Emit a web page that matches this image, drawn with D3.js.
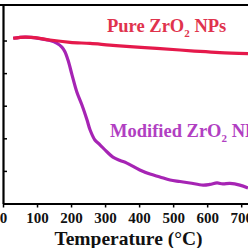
<!DOCTYPE html>
<html>
<head>
<meta charset="utf-8">
<script src="https://cdn.jsdelivr.net/npm/d3@7"></script>
<style>
  body { margin: 0; background: #fff; }
  svg { display: block; }
</style>
</head>
<body>
<svg id="chart" width="248" height="248"></svg>
<script>
// temperature (°C) and weight (%)
const pureTemp = [30, 65, 94, 138, 197, 256, 314, 373, 452, 520, 579, 637, 720];
const pureWeight = [101.4, 102.1, 101.8, 100.3, 98.9, 98.2, 97.2, 96.3, 95.2, 94.2, 93.3, 92.6, 92.0];

const modTemp = [30, 65, 109, 138, 159, 173, 182, 191, 203, 217, 232, 247, 256, 270, 285, 306, 323, 344, 364, 402, 432, 461, 491, 520, 549, 588, 608, 629, 646, 667, 696, 720];
const modWeight = [101.4, 102.1, 101.2, 100.0, 98.3, 96.0, 93.1, 88.0, 78.8, 68.4, 60.4, 51.2, 45.1, 39.0, 36.0, 31.6, 28.5, 26.4, 24.8, 20.6, 18.1, 16.3, 14.4, 13.5, 12.6, 11.3, 11.7, 12.6, 12.0, 12.3, 11.3, 9.5];

const xTicks = [0, 100, 200, 300, 400, 500, 600, 700];
const yTicks = [0, 20, 40, 60, 80, 100];

const svg = d3.select("#chart");
const margin = { top: 5, right: 0, bottom: 44.5, left: 3 };
const width = +svg.attr("width") - margin.left - margin.right;
const height = +svg.attr("height") - margin.top - margin.bottom;

const chart = svg.append("g")
    .attr("transform", `translate(${margin.left}, ${margin.top})`);

const x = d3.scaleLinear().domain([0, 720]).range([0, width]);
const y = d3.scaleLinear().domain([0, 121.8]).range([height, 0]);

// --- curves ---
const line = d3.line()
    .x(d => x(d[0]))
    .y(d => y(d[1]))
    .curve(d3.curveCatmullRom);

chart.append("path")
    .datum(d3.zip(modTemp, modWeight))
    .attr("d", line)
    .attr("fill", "none")
    .attr("stroke", "#a624b4")
    .attr("stroke-width", 3.2);

chart.append("path")
    .datum(d3.zip(pureTemp, pureWeight))
    .attr("d", line)
    .attr("fill", "none")
    .attr("stroke", "#e5194b")
    .attr("stroke-width", 3.2);

const serif = "'Liberation Serif', 'Times New Roman', serif";

// --- axes ---
const xAxis = chart.append("g")
    .attr("transform", `translate(0, ${height})`)
    .call(d3.axisBottom(x).tickValues(xTicks).tickSize(4).tickSizeOuter(0).tickPadding(5));

xAxis.select(".domain").attr("stroke-width", 2.2);
xAxis.selectAll(".tick line").attr("stroke-width", 1.5);
xAxis.selectAll("text")
    .attr("font-family", serif)
    .attr("font-weight", "bold")
    .attr("font-size", 15)
    .attr("fill", "#111");

const yAxis = chart.append("g")
    .call(d3.axisLeft(y).tickValues(yTicks).tickSizeInner(-4).tickSizeOuter(0).tickFormat(""));
yAxis.select(".domain").attr("stroke-width", 2.2);
yAxis.selectAll(".tick line").attr("stroke-width", 1.5);

// top frame line
chart.append("line")
    .attr("x1", -margin.left).attr("x2", width)
    .attr("y1", 0).attr("y2", 0)
    .attr("stroke", "#000")
    .attr("stroke-width", 2.2);

// --- labels ---
svg.append("text")
    .attr("x", 128.5).attr("y", 245)
    .attr("text-anchor", "middle")
    .attr("font-family", serif)
    .attr("font-weight", "bold")
    .attr("font-size", 19.5)
    .attr("fill", "#111")
    .text("Temperature (°C)");

const pure = svg.append("text")
    .attr("x", 107).attr("y", 32)
    .attr("font-family", serif)
    .attr("font-weight", "bold")
    .attr("font-size", 18.5)
    .attr("fill", "#e0334d");
pure.append("tspan").text("Pure ZrO");
pure.append("tspan").attr("font-size", 11).attr("dy", 5).text("2");
pure.append("tspan").attr("dy", -5).text(" NPs");

const mod = svg.append("text")
    .attr("x", 110).attr("y", 137)
    .attr("font-family", serif)
    .attr("font-weight", "bold")
    .attr("font-size", 18.5)
    .attr("fill", "#b13fc2");
mod.append("tspan").text("Modified ZrO");
mod.append("tspan").attr("font-size", 11).attr("dy", 5).text("2");
mod.append("tspan").attr("dy", -5).text(" NPs");
</script>
</body>
</html>
